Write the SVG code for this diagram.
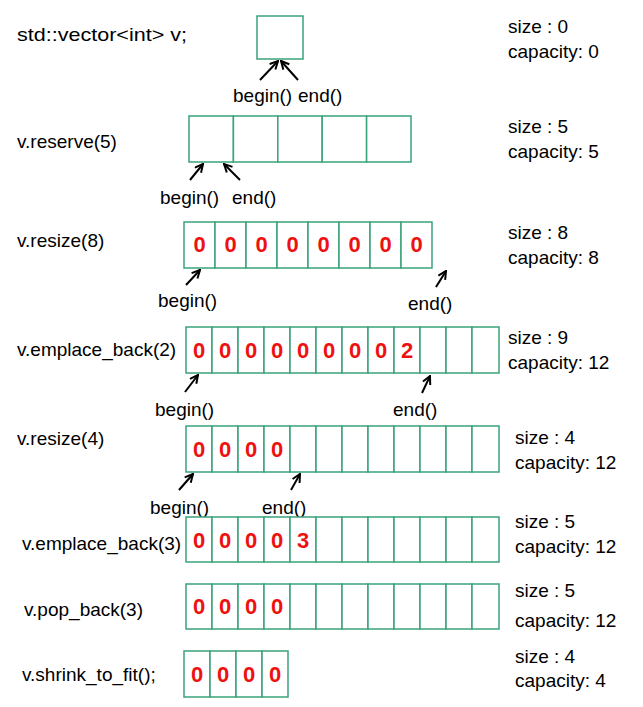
<svg xmlns="http://www.w3.org/2000/svg" width="643" height="707" viewBox="0 0 643 707">
<defs><marker id="ah" viewBox="0 0 10 10" refX="9" refY="5" markerWidth="5" markerHeight="5" orient="auto"><path d="M1,1 L9,5 L1,9" fill="none" stroke="#000" stroke-width="2"/></marker></defs>
<style>
text{font-family:"Liberation Sans",Arial,sans-serif;font-size:19px;fill:#000}
.c{fill:#fff;stroke:#3aa37a;stroke-width:1.5}
.d{font-size:22px;font-weight:bold;fill:#ee1111;text-anchor:middle}
.a{stroke:#000;stroke-width:2;fill:none;marker-end:url(#ah)}
</style>
<rect x="0" y="0" width="643" height="707" fill="#fff"/>
<g id="r0"><text x="17" y="41" textLength="170" lengthAdjust="spacingAndGlyphs">std::vector&lt;int&gt; v;</text><rect class="c" x="257" y="16" width="46" height="43"/>
<text x="508" y="33">size : 0</text><text x="508" y="58">capacity: 0</text><text x="233" y="102">begin()</text><text x="298" y="102">end()</text></g>
<g id="r1"><text x="17" y="148">v.reserve(5)</text>
<g class="cells"><rect class="c" x="189" y="116" width="44.4" height="46"/><rect class="c" x="233.4" y="116" width="44.4" height="46"/><rect class="c" x="277.8" y="116" width="44.4" height="46"/><rect class="c" x="322.2" y="116" width="44.4" height="46"/><rect class="c" x="366.6" y="116" width="44.4" height="46"/></g>
<text x="508" y="133">size : 5</text><text x="508" y="158">capacity: 5</text><text x="160" y="204">begin()</text><text x="232" y="204">end()</text></g>
<g id="r2"><text x="17" y="247">v.resize(8)</text>
<rect class="c" x="184" y="222" width="31" height="46"/><rect class="c" x="215" y="222" width="31" height="46"/><rect class="c" x="246" y="222" width="31" height="46"/><rect class="c" x="277" y="222" width="31" height="46"/><rect class="c" x="308" y="222" width="31" height="46"/><rect class="c" x="339" y="222" width="31" height="46"/><rect class="c" x="370" y="222" width="31" height="46"/><rect class="c" x="401" y="222" width="31" height="46"/>
<text class="d" x="199.5" y="252">0</text><text class="d" x="230.5" y="252">0</text><text class="d" x="261.5" y="252">0</text><text class="d" x="292.5" y="252">0</text><text class="d" x="323.5" y="252">0</text><text class="d" x="354.5" y="252">0</text><text class="d" x="385.5" y="252">0</text><text class="d" x="416.5" y="252">0</text>
<text x="508" y="239">size : 8</text><text x="508" y="264">capacity: 8</text><text x="158" y="307">begin()</text><text x="408" y="310">end()</text></g>
<g id="r3"><text x="17" y="356">v.emplace_back(2)</text>
<rect class="c" x="186" y="327" width="26" height="46"/><rect class="c" x="212" y="327" width="26" height="46"/><rect class="c" x="238" y="327" width="26" height="46"/><rect class="c" x="264" y="327" width="26" height="46"/><rect class="c" x="290" y="327" width="26" height="46"/><rect class="c" x="316" y="327" width="26" height="46"/><rect class="c" x="342" y="327" width="26" height="46"/><rect class="c" x="368" y="327" width="26" height="46"/><rect class="c" x="394" y="327" width="26" height="46"/><rect class="c" x="420" y="327" width="26" height="46"/><rect class="c" x="446" y="327" width="26" height="46"/><rect class="c" x="472" y="327" width="27" height="46"/>
<text class="d" x="199" y="358">0</text><text class="d" x="225" y="358">0</text><text class="d" x="251" y="358">0</text><text class="d" x="277" y="358">0</text><text class="d" x="303" y="358">0</text><text class="d" x="329" y="358">0</text><text class="d" x="355" y="358">0</text><text class="d" x="381" y="358">0</text><text class="d" x="407" y="358">2</text>
<text x="508" y="344">size : 9</text><text x="508" y="369">capacity: 12</text><text x="155" y="416">begin()</text><text x="393" y="416">end()</text></g>
<g id="r4"><text x="17" y="445">v.resize(4)</text>
<rect class="c" x="186" y="426" width="26" height="46"/><rect class="c" x="212" y="426" width="26" height="46"/><rect class="c" x="238" y="426" width="26" height="46"/><rect class="c" x="264" y="426" width="26" height="46"/><rect class="c" x="290" y="426" width="26" height="46"/><rect class="c" x="316" y="426" width="26" height="46"/><rect class="c" x="342" y="426" width="26" height="46"/><rect class="c" x="368" y="426" width="26" height="46"/><rect class="c" x="394" y="426" width="26" height="46"/><rect class="c" x="420" y="426" width="26" height="46"/><rect class="c" x="446" y="426" width="26" height="46"/><rect class="c" x="472" y="426" width="27" height="46"/>
<text class="d" x="199" y="457">0</text><text class="d" x="225" y="457">0</text><text class="d" x="251" y="457">0</text><text class="d" x="277" y="457">0</text>
<text x="515" y="444">size : 4</text><text x="515" y="469">capacity: 12</text><text x="150" y="514">begin()</text><text x="262" y="514">end()</text></g>
<g id="r5"><text x="22" y="550">v.emplace_back(3)</text>
<rect class="c" x="186" y="517" width="26" height="45"/><rect class="c" x="212" y="517" width="26" height="45"/><rect class="c" x="238" y="517" width="26" height="45"/><rect class="c" x="264" y="517" width="26" height="45"/><rect class="c" x="290" y="517" width="26" height="45"/><rect class="c" x="316" y="517" width="26" height="45"/><rect class="c" x="342" y="517" width="26" height="45"/><rect class="c" x="368" y="517" width="26" height="45"/><rect class="c" x="394" y="517" width="26" height="45"/><rect class="c" x="420" y="517" width="26" height="45"/><rect class="c" x="446" y="517" width="26" height="45"/><rect class="c" x="472" y="517" width="27" height="45"/>
<text class="d" x="199" y="548">0</text><text class="d" x="225" y="548">0</text><text class="d" x="251" y="548">0</text><text class="d" x="277" y="548">0</text><text class="d" x="303" y="548">3</text>
<text x="515" y="528">size : 5</text><text x="515" y="553">capacity: 12</text></g>
<g id="r6"><text x="24" y="616">v.pop_back(3)</text>
<rect class="c" x="186" y="584" width="26" height="45"/><rect class="c" x="212" y="584" width="26" height="45"/><rect class="c" x="238" y="584" width="26" height="45"/><rect class="c" x="264" y="584" width="26" height="45"/><rect class="c" x="290" y="584" width="26" height="45"/><rect class="c" x="316" y="584" width="26" height="45"/><rect class="c" x="342" y="584" width="26" height="45"/><rect class="c" x="368" y="584" width="26" height="45"/><rect class="c" x="394" y="584" width="26" height="45"/><rect class="c" x="420" y="584" width="26" height="45"/><rect class="c" x="446" y="584" width="26" height="45"/><rect class="c" x="472" y="584" width="27" height="45"/>
<text class="d" x="199" y="614">0</text><text class="d" x="225" y="614">0</text><text class="d" x="251" y="614">0</text><text class="d" x="277" y="614">0</text>
<text x="515" y="597">size : 5</text><text x="515" y="627">capacity: 12</text></g>
<g id="r7"><text x="22" y="681">v.shrink_to_fit();</text>
<rect class="c" x="184" y="651" width="26" height="46"/><rect class="c" x="210" y="651" width="26" height="46"/><rect class="c" x="236" y="651" width="26" height="46"/><rect class="c" x="262" y="651" width="26" height="46"/>
<text class="d" x="197" y="682">0</text><text class="d" x="223" y="682">0</text><text class="d" x="249" y="682">0</text><text class="d" x="275" y="682">0</text>
<text x="515" y="663">size : 4</text><text x="515" y="687">capacity: 4</text></g>
<g id="connectors">
<line class="a" x1="260" y1="80" x2="278" y2="61"/><line class="a" x1="298" y1="80" x2="281" y2="61"/>
<line class="a" x1="190" y1="180" x2="203" y2="164"/><line class="a" x1="240" y1="180" x2="224" y2="164"/>
<line class="a" x1="186" y1="285" x2="200" y2="270"/><line class="a" x1="436" y1="287" x2="446" y2="271"/>
<line class="a" x1="185" y1="392" x2="198" y2="375"/><line class="a" x1="422" y1="393" x2="430" y2="376"/>
<line class="a" x1="179" y1="490" x2="193" y2="474"/><line class="a" x1="291" y1="490" x2="300" y2="474"/>
</g>
</svg>
